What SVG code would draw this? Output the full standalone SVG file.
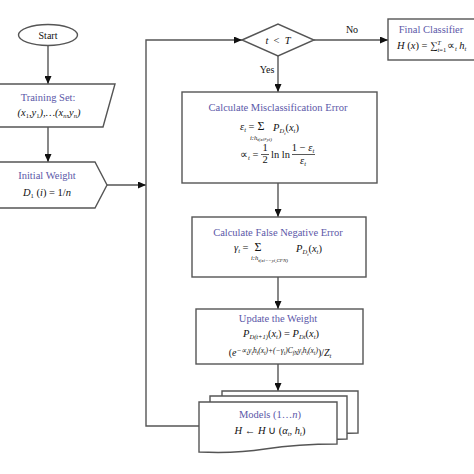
<svg xmlns="http://www.w3.org/2000/svg" width="474" height="474" viewBox="0 0 474 474">
<defs>
<marker id="ah" markerWidth="8" markerHeight="7" refX="8" refY="3.5" orient="auto" markerUnits="userSpaceOnUse">
<path d="M0,0 L8,3.5 L0,7 z" fill="#111"/>
</marker>
<style>
.shape{fill:#fff;stroke:#555;stroke-width:1.4}
.conn{fill:none;stroke:#555;stroke-width:1.4}
.title{font-family:"Liberation Serif",serif;font-size:10.5px;fill:#5b57a8;text-anchor:middle}
.math{font-family:"Liberation Serif",serif;font-size:10.5px;fill:#111;font-style:italic}
.mathc{font-family:"Liberation Serif",serif;font-size:10.5px;fill:#111;font-style:italic;text-anchor:middle}
.rm{font-style:normal}
.sub{font-size:6.5px}
.lbl{font-family:"Liberation Serif",serif;font-size:10px;fill:#111;text-anchor:middle}
</style>
</defs>
<rect width="474" height="474" fill="#fff"/>

<g id="connectors">
<line class="conn" x1="48" y1="45" x2="48" y2="84" marker-end="url(#ah)"/>
<line class="conn" x1="48" y1="127" x2="48" y2="162" marker-end="url(#ah)"/>
<line class="conn" x1="107" y1="185" x2="146" y2="185" marker-end="url(#ah)"/>
<polyline class="conn" points="200,426 146,426 146,40 242,40" marker-end="url(#ah)"/>
<line class="conn" x1="314" y1="40" x2="388" y2="40" marker-end="url(#ah)"/>
<text class="lbl" x="352" y="33">No</text>
<line class="conn" x1="278" y1="54" x2="278" y2="92" marker-end="url(#ah)"/>
<text class="lbl" x="267" y="73">Yes</text>
<line class="conn" x1="278" y1="183" x2="278" y2="217" marker-end="url(#ah)"/>
<line class="conn" x1="278" y1="277" x2="278" y2="309" marker-end="url(#ah)"/>
<line class="conn" x1="278" y1="364" x2="278" y2="391" marker-end="url(#ah)"/>
</g>

<g id="start">
<ellipse class="shape" cx="48" cy="35" rx="29.5" ry="10.5"/>
<text class="lbl" x="48" y="38.5">Start</text>
</g>

<g id="training-set">
<polygon class="shape" points="-20,84 115,84 103,127 -30,127"/>
<text class="title" x="48" y="101">Training Set:</text>
<text class="mathc" x="49" y="116">(<tspan>x</tspan><tspan class="sub rm" dy="2">1</tspan><tspan dy="-2">,y</tspan><tspan class="sub rm" dy="2">1</tspan><tspan dy="-2">),…(x</tspan><tspan class="sub" dy="2">n</tspan><tspan dy="-2">,y</tspan><tspan class="sub" dy="2">n</tspan><tspan dy="-2">)</tspan></text>
</g>

<g id="initial-weight">
<polygon class="shape" points="-10,162 95,162 107,185 95,208 -10,208"/>
<text class="title" x="47" y="179">Initial Weight</text>
<text class="mathc" x="47" y="196">D<tspan class="sub rm" dy="2">1</tspan><tspan dy="-2" class="rm"> (</tspan>i<tspan class="rm">) = 1/</tspan>n</text>
</g>

<g id="condition">
<polygon class="shape" points="242,40 278,24 314,40 278,56"/>
<text class="mathc" x="278" y="43.5" style="font-size:10.5px" xml:space="preserve">t  <tspan class="rm">&lt;</tspan>  T</text>
</g>

<g id="final-classifier">
<rect class="shape" x="388" y="19" width="100" height="41"/>
<text class="title" x="431" y="33">Final Classifier</text>
<text class="math" x="397" y="49">H<tspan class="rm"> (</tspan>x<tspan class="rm">) = ∑</tspan><tspan class="sub" dy="3">t</tspan><tspan class="sub rm">=1</tspan><tspan class="sub" dy="-7" dx="-9">T</tspan><tspan dy="4" dx="6" class="rm">∝</tspan><tspan class="sub" dy="2">t</tspan><tspan dy="-2"> h</tspan><tspan class="sub" dy="2">t</tspan></text>
</g>

<g id="misclassification">
<rect class="shape" x="182" y="92" width="195" height="91"/>
<text class="title" x="278" y="111">Calculate Misclassification Error</text>
<text class="math" x="240" y="130">ε<tspan class="sub" dy="2">t</tspan><tspan class="rm" dy="-2"> =</tspan></text>
<text class="mathc rm" x="261" y="130" style="font-size:12px">Σ</text>
<text class="math sub" x="250" y="139.5">i:h<tspan dy="1.5" style="font-size:5px">t(xi≠yi)</tspan></text>
<text class="math" x="273" y="131">P<tspan class="sub" dy="2">D</tspan><tspan style="font-size:4.5px" dy="1.5">t</tspan><tspan class="rm" dy="-3.5">(</tspan>x<tspan class="sub" dy="2">t</tspan><tspan class="rm" dy="-2">)</tspan></text>
<text class="math" x="240" y="158"><tspan class="rm">∝</tspan><tspan class="sub" dy="2">t</tspan><tspan class="rm" dy="-2"> =</tspan></text>
<text class="mathc rm" x="265" y="151">1</text>
<line x1="261" y1="154.5" x2="269" y2="154.5" stroke="#111" stroke-width="0.7"/>
<text class="mathc rm" x="265" y="163">2</text>
<text class="math rm" x="271" y="158">ln ln</text>
<text class="mathc" x="303" y="151"><tspan class="rm">1 − </tspan>ε<tspan class="sub" dy="2">t</tspan></text>
<line x1="292" y1="154.5" x2="315" y2="154.5" stroke="#111" stroke-width="0.7"/>
<text class="mathc" x="303" y="164">ε<tspan class="sub" dy="2">t</tspan></text>
</g>

<g id="false-negative">
<rect class="shape" x="192" y="217" width="174" height="60"/>
<text class="title" x="278" y="236">Calculate False Negative Error</text>
<text class="math" x="234" y="251">γ<tspan class="sub" dy="2">t</tspan><tspan class="rm" dy="-2"> =</tspan></text>
<text class="mathc rm" x="258" y="251" style="font-size:12px">Σ</text>
<text class="math sub" x="251" y="260">i:h<tspan dy="1.5" style="font-size:5px">t(xi==yi,CFN)</tspan></text>
<text class="math" x="296" y="252">P<tspan class="sub" dy="2">D</tspan><tspan style="font-size:4.5px" dy="1.5">t</tspan><tspan class="rm" dy="-3.5">(</tspan>x<tspan class="sub" dy="2">t</tspan><tspan class="rm" dy="-2">)</tspan></text>
</g>

<g id="update-weight">
<rect class="shape" x="196" y="309" width="167" height="55"/>
<text class="title" x="278" y="322">Update the Weight</text>
<text class="mathc" x="281" y="337">P<tspan class="sub" dy="2">D(t+1)</tspan><tspan class="rm" dy="-2">(</tspan>x<tspan class="sub" dy="2">t</tspan><tspan class="rm" dy="-2">) = </tspan>P<tspan class="sub" dy="2">Dt</tspan><tspan class="rm" dy="-2">(</tspan>x<tspan class="sub" dy="2">t</tspan><tspan class="rm" dy="-2">)</tspan></text>
<text class="mathc" x="280" y="356" style="font-size:10px"><tspan class="rm">(</tspan>e<tspan style="font-size:7.5px" dy="-3">−∝<tspan dy="1.5" style="font-size:5.5px">t</tspan><tspan dy="-1.5">y</tspan><tspan dy="1.5" style="font-size:5.5px">t</tspan><tspan dy="-1.5">h</tspan><tspan dy="1.5" style="font-size:5.5px">t</tspan><tspan dy="-1.5">(x</tspan><tspan dy="1.5" style="font-size:5.5px">t</tspan><tspan dy="-1.5">)+(−γ</tspan><tspan dy="1.5" style="font-size:5.5px">t</tspan><tspan dy="-1.5">)C</tspan><tspan dy="1.5" style="font-size:5.5px">fN</tspan><tspan dy="-1.5">y</tspan><tspan dy="1.5" style="font-size:5.5px">t</tspan><tspan dy="-1.5">h</tspan><tspan dy="1.5" style="font-size:5.5px">t</tspan><tspan dy="-1.5">(x</tspan><tspan dy="1.5" style="font-size:5.5px">t</tspan><tspan dy="-1.5">)</tspan></tspan><tspan class="rm" dy="3">)/</tspan>Z<tspan class="sub" dy="2">t</tspan></text>
</g>

<g id="models">
<path class="shape" d="M222,391 H358 V433 C330,433 300,436 270,440 C250,443 235,443 222,442 Z"/>
<path class="shape" d="M210,396 H347 V439 C320,439 290,442 260,446 C240,449 225,448 210,447 Z"/>
<path class="shape" d="M199,402 H337 V444 C305,444 285,446 265,449 C240,453 220,453 199,452 Z"/>
<text class="title" x="270" y="418">Models (1…<tspan font-style="italic">n</tspan>)</text>
<text class="mathc" x="270" y="434">H<tspan class="rm"> ← </tspan>H<tspan class="rm"> ∪ (</tspan>α<tspan class="sub" dy="2">t</tspan><tspan class="rm" dy="-2">, </tspan>h<tspan class="sub" dy="2">t</tspan><tspan class="rm" dy="-2">)</tspan></text>
</g>
</svg>
